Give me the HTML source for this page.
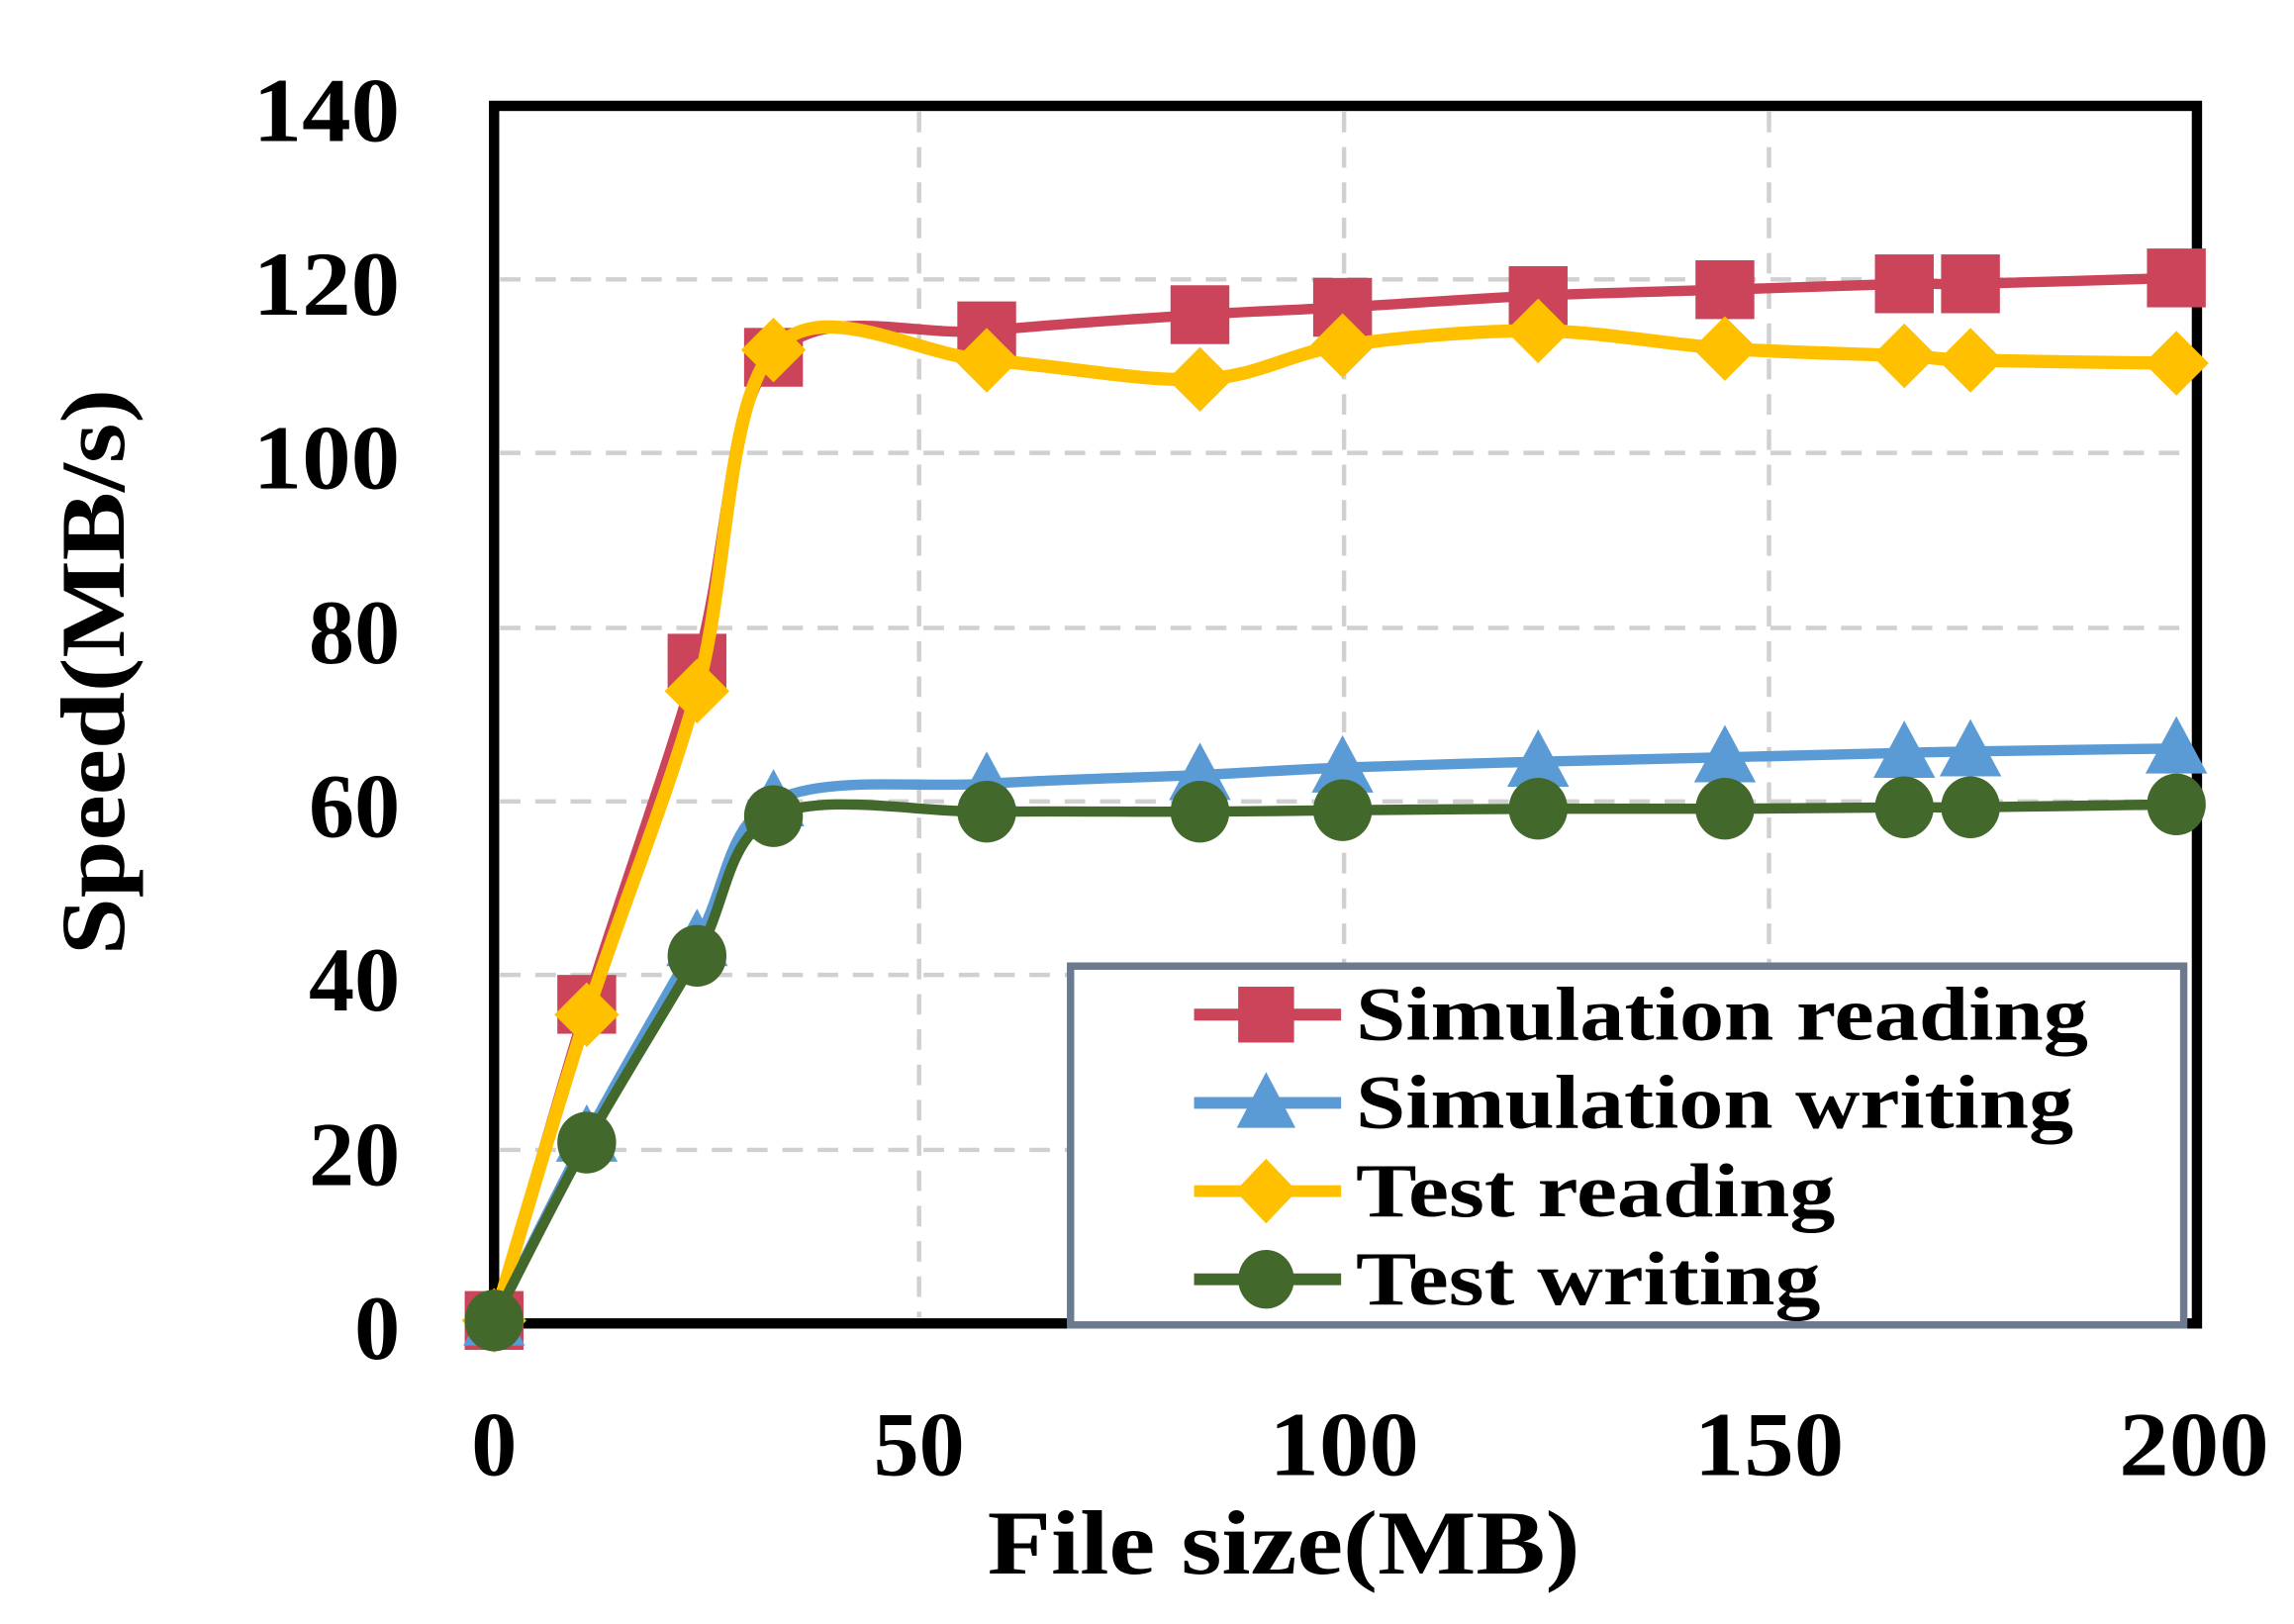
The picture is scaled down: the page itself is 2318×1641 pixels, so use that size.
<!DOCTYPE html>
<html><head><meta charset="utf-8"><style>html,body{margin:0;padding:0;background:#fff}svg{display:block}</style></head>
<body>
<svg id="s" width="2318" height="1641" viewBox="0 0 1560 1104.4" preserveAspectRatio="none" xmlns="http://www.w3.org/2000/svg" font-family="'Liberation Serif',serif" font-weight="bold">
<rect width="1560" height="1104.4" fill="#fff"/>
<g stroke="#d0d0d0" stroke-width="3" stroke-dasharray="14 10">
<line x1="340" y1="190" x2="1490" y2="190"/><line x1="340" y1="308" x2="1490" y2="308"/><line x1="340" y1="427" x2="1490" y2="427"/><line x1="340" y1="545" x2="1490" y2="545"/><line x1="340" y1="663" x2="1490" y2="663"/><line x1="340" y1="782" x2="1490" y2="782"/>
<line x1="625" y1="76" x2="625" y2="896"/><line x1="914" y1="76" x2="914" y2="896"/><line x1="1203" y1="76" x2="1203" y2="896"/>
</g>
<rect x="336" y="72" width="1158" height="828" fill="none" stroke="#000" stroke-width="7"/>
<g id="series"></g>
<rect x="728" y="657" width="757" height="244" fill="#fff" stroke="#6b7a8e" stroke-width="5"/>
<g stroke-width="8">
<line x1="812" y1="690" x2="912" y2="690" stroke="#cc4459"/><rect x="842" y="671" width="38" height="38" fill="#cc4459"/>
<line x1="812" y1="750" x2="912" y2="750" stroke="#5b9bd5"/><polygon points="861,729 881,767 841,767" fill="#5b9bd5"/>
<line x1="812" y1="810" x2="912" y2="810" stroke="#ffc000"/><polygon points="861,788 882,810 861,832 840,810" fill="#ffc000"/>
<line x1="812" y1="870" x2="912" y2="870" stroke="#43682b"/><ellipse cx="861" cy="870" rx="19" ry="20" fill="#43682b"/>
</g>
<g font-size="52" fill="#000">
<text x="922" y="707" textLength="498" lengthAdjust="spacingAndGlyphs">Simulation reading</text>
<text x="922" y="767" textLength="488" lengthAdjust="spacingAndGlyphs">Simulation writing</text>
<text x="922" y="827" textLength="326" lengthAdjust="spacingAndGlyphs">Test reading</text>
<text x="922" y="887" textLength="316" lengthAdjust="spacingAndGlyphs">Test writing</text>
</g>
<g font-size="62" fill="#000" text-anchor="end">
<text x="272" y="96" textLength="100" lengthAdjust="spacingAndGlyphs">140</text>
<text x="272" y="214" textLength="100" lengthAdjust="spacingAndGlyphs">120</text>
<text x="272" y="332" textLength="100" lengthAdjust="spacingAndGlyphs">100</text>
<text x="272" y="451">80</text><text x="272" y="569">60</text><text x="272" y="687">40</text><text x="272" y="806">20</text><text x="272" y="924">0</text>
</g>
<g font-size="62" fill="#000" text-anchor="middle">
<text x="336" y="1003">0</text><text x="625" y="1003">50</text>
<text x="914" y="1003" textLength="102" lengthAdjust="spacingAndGlyphs">100</text>
<text x="1203" y="1003" textLength="102" lengthAdjust="spacingAndGlyphs">150</text>
<text x="1492" y="1003" textLength="102" lengthAdjust="spacingAndGlyphs">200</text>
<text x="873" y="1070" textLength="403" lengthAdjust="spacingAndGlyphs">File size(MB)</text>
<text transform="translate(84,457) rotate(-90)" textLength="385" lengthAdjust="spacingAndGlyphs">Speed(MB/s)</text>
</g>
</svg>
<script>
var X=[336,399,474,526,671,816,913,1046,1173,1295,1340,1480];
var S=[
 {c:"#cc4459",w:7,m:"sq",y:[898,683,451,243,225,214,209,201,197,193,193,189]},
 {c:"#5b9bd5",w:7,m:"tri",y:[898,773,640,545,533,527,522,518,515,512,511,509]},
 {c:"#ffc000",w:9,m:"dia",y:[898,690,470,238,245,258,235,225,237,242,245,247]},
 {c:"#43682b",w:7,m:"cir",y:[898,777,650,555,552,552,551,550,550,549,549,547]}
];
var g=document.getElementById("series"),ns="http://www.w3.org/2000/svg";
function el(t,a){var e=document.createElementNS(ns,t);for(var k in a)e.setAttribute(k,a[k]);g.appendChild(e);return e;}
S.forEach(function(s){
 var p=X.map(function(x,i){return [x,s.y[i]];}),d="M"+p[0][0]+","+p[0][1],t=1/6;
 for(var i=0;i<p.length-1;i++){var a=p[Math.max(i-1,0)],b=p[i],c=p[i+1],e=p[Math.min(i+2,p.length-1)];
  d+=" C"+(b[0]+(c[0]-a[0])*t)+","+(b[1]+(c[1]-a[1])*t)+" "+(c[0]-(e[0]-b[0])*t)+","+(c[1]-(e[1]-b[1])*t)+" "+c[0]+","+c[1];}
 el("path",{d:d,fill:"none",stroke:s.c,"stroke-width":s.w,"stroke-linejoin":"round"});
 p.forEach(function(q){var x=q[0],y=q[1];
  if(s.m=="sq")el("rect",{x:x-20,y:y-20,width:40,height:40,fill:s.c});
  else if(s.m=="tri")el("polygon",{points:(x)+","+(y-22)+" "+(x+21)+","+(y+17)+" "+(x-21)+","+(y+17),fill:s.c});
  else if(s.m=="dia")el("polygon",{points:x+","+(y-22)+" "+(x+22)+","+y+" "+x+","+(y+22)+" "+(x-22)+","+y,fill:s.c});
  else el("ellipse",{cx:x,cy:y,rx:20,ry:21,fill:s.c});
 });
});
</script>
</body></html>
